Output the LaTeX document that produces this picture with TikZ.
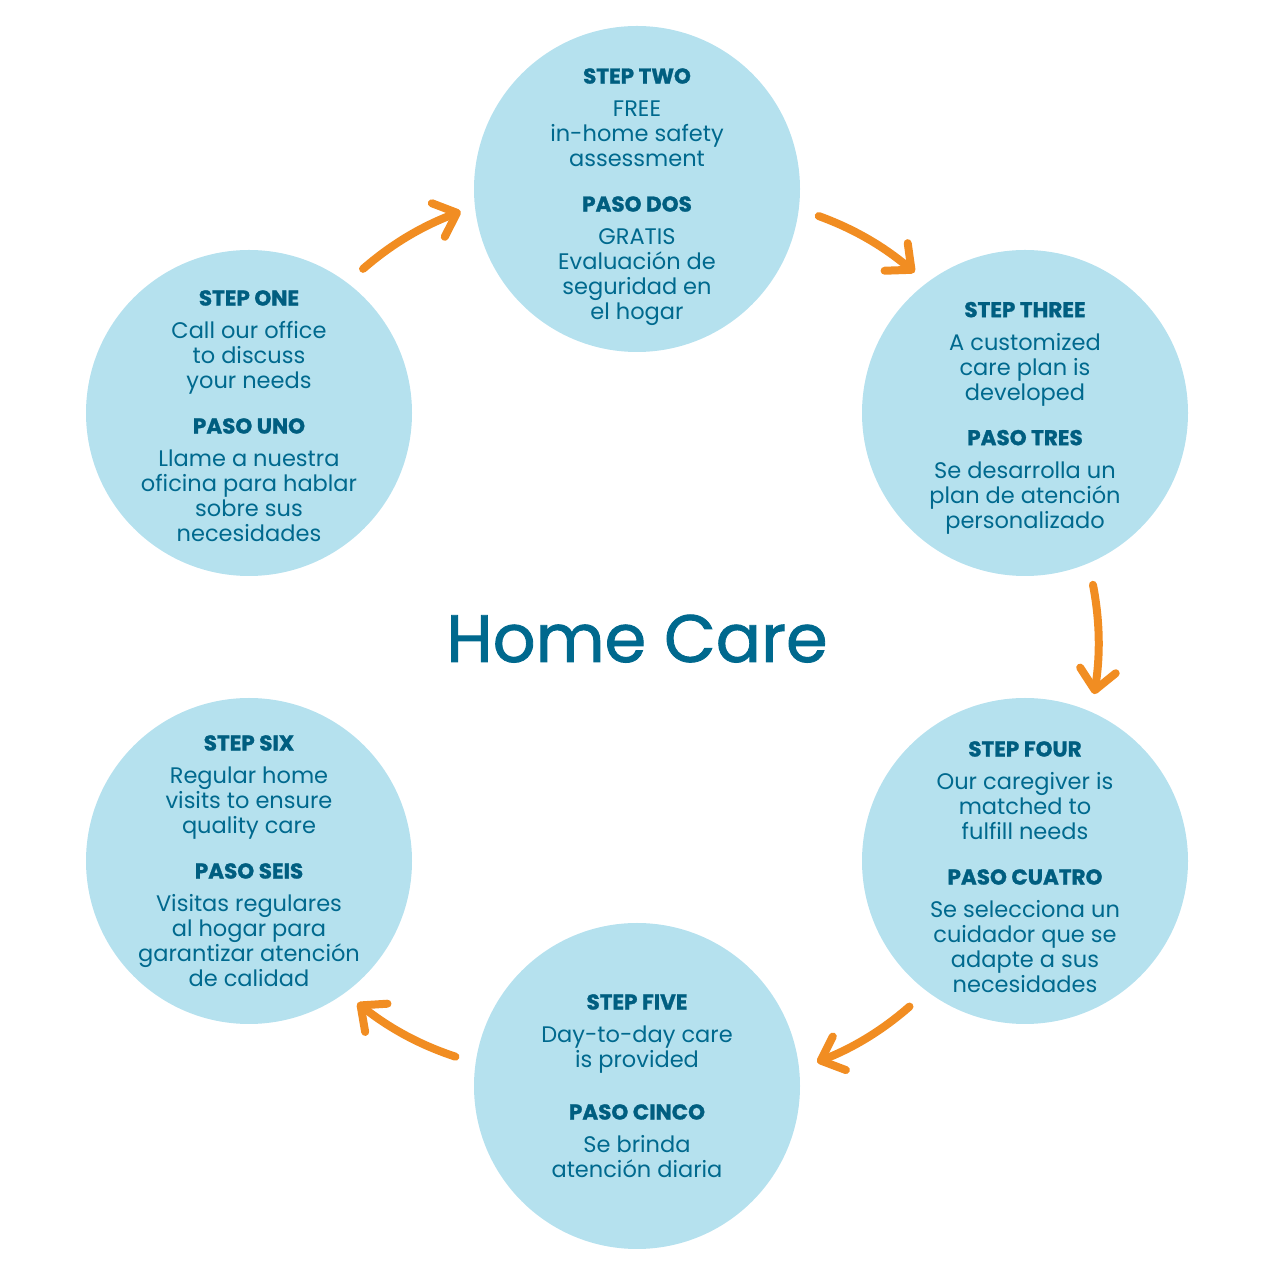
\documentclass[tikz,border=0pt]{standalone}
\usepackage{fontspec}
\setmainfont{Poppins}
\newfontfamily\headfont{Poppins}[BoldFeatures={FakeBold=1.2}]
\newfontfamily\titlefont{Poppins}[FakeBold=1.3]
\usetikzlibrary{arrows.meta}

\definecolor{circleblue}{HTML}{B5E1EE}
\definecolor{textteal}{HTML}{00698E}
\definecolor{headteal}{HTML}{005E80}
\definecolor{arroworange}{HTML}{F18D22}

\newcommand{\hd}[1]{{\headfont\fontsize{21.5}{25}\selectfont\bfseries\color{headteal}#1}}

\begin{document}
\begin{tikzpicture}[x=1pt, y=1pt,
	stepcircle/.style={circle, fill=circleblue, minimum size=326pt, inner sep=0pt},
	steptext/.style={align=center, text=textteal, font=\fontsize{22.5}{25}\selectfont},
	flow/.style={draw=arroworange, line width=8pt, line cap=round,
		-{Straight Barb[length=20pt, width=36pt, round]}, bend left=10}]
		\useasboundingbox (0,0) rectangle (1275,1275);

		% circles
		\node [stepcircle] (c1) at (249, 862) {};
		\node [stepcircle] (c2) at (637,1086) {};
		\node [stepcircle] (c3) at (1025, 862) {};
		\node [stepcircle] (c4) at (1025, 414) {};
		\node [stepcircle] (c5) at (637, 189) {};
		\node [stepcircle] (c6) at (249, 414) {};

		% texts
		\node [steptext, yshift=-3pt] (t1) at (c1) {\hd{STEP ONE}\\[8pt]
			Call our office\\ to discuss\\ your needs\\[20pt]
			\hd{PASO UNO}\\[8pt]
			Llame a nuestra\\ oficina para hablar\\ sobre sus\\ necesidades};
		\node [steptext, yshift=-8pt] (t2) at (c2) {\hd{STEP TWO}\\[8pt]
			FREE\\ in-home safety\\ assessment\\[20pt]
			\hd{PASO DOS}\\[8pt]
			GRATIS\\ Evaluación de\\ seguridad en\\ el hogar};
		\node [steptext, yshift=-5pt] (t3) at (c3) {\hd{STEP THREE}\\[8pt]
			A customized\\ care plan is\\ developed\\[20pt]
			\hd{PASO TRES}\\[8pt]
			Se desarrolla un\\ plan de atención\\ personalizado};
		\node [steptext, yshift=-6pt] (t4) at (c4) {\hd{STEP FOUR}\\[8pt]
			Our caregiver is\\ matched to\\ fulfill needs\\[20pt]
			\hd{PASO CUATRO}\\[8pt]
			Se selecciona un\\ cuidador que se\\ adapte a sus\\ necesidades};
		\node [steptext] (t5) at (c5) {\hd{STEP FIVE}\\[8pt]
			Day-to-day care\\ is provided\\[27pt]
			\hd{PASO CINCO}\\[8pt]
			Se brinda\\ atención diaria};
		\node [steptext] (t6) at (c6) {\hd{STEP SIX}\\[8pt]
			Regular home\\ visits to ensure\\ quality care\\[20pt]
			\hd{PASO SEIS}\\[8pt]
			Visitas regulares\\ al hogar para\\ garantizar atención\\ de calidad};

		% title
		\node [anchor=base, text=textteal, font=\titlefont\fontsize{67}{80}\selectfont] (title) at (637, 613) {Home Care};

		% arrows
		\draw [flow, shorten <=21pt, shorten >=15pt] (c1.53) to (c2.186);
		\draw [flow, shorten <=21pt, shorten >=16pt] (c2.-7) to (c3.127);
		\draw [flow, shorten <=22pt, shorten >=18pt] (c3.-67) to (c4.66);
		\draw [flow, shorten <=23pt, shorten >=19pt] (c4.233) to (c5.6);
		\draw [flow, shorten <=21pt, shorten >=16pt] (c5.172) to (c6.-54);

	\end{tikzpicture}
\end{document}
